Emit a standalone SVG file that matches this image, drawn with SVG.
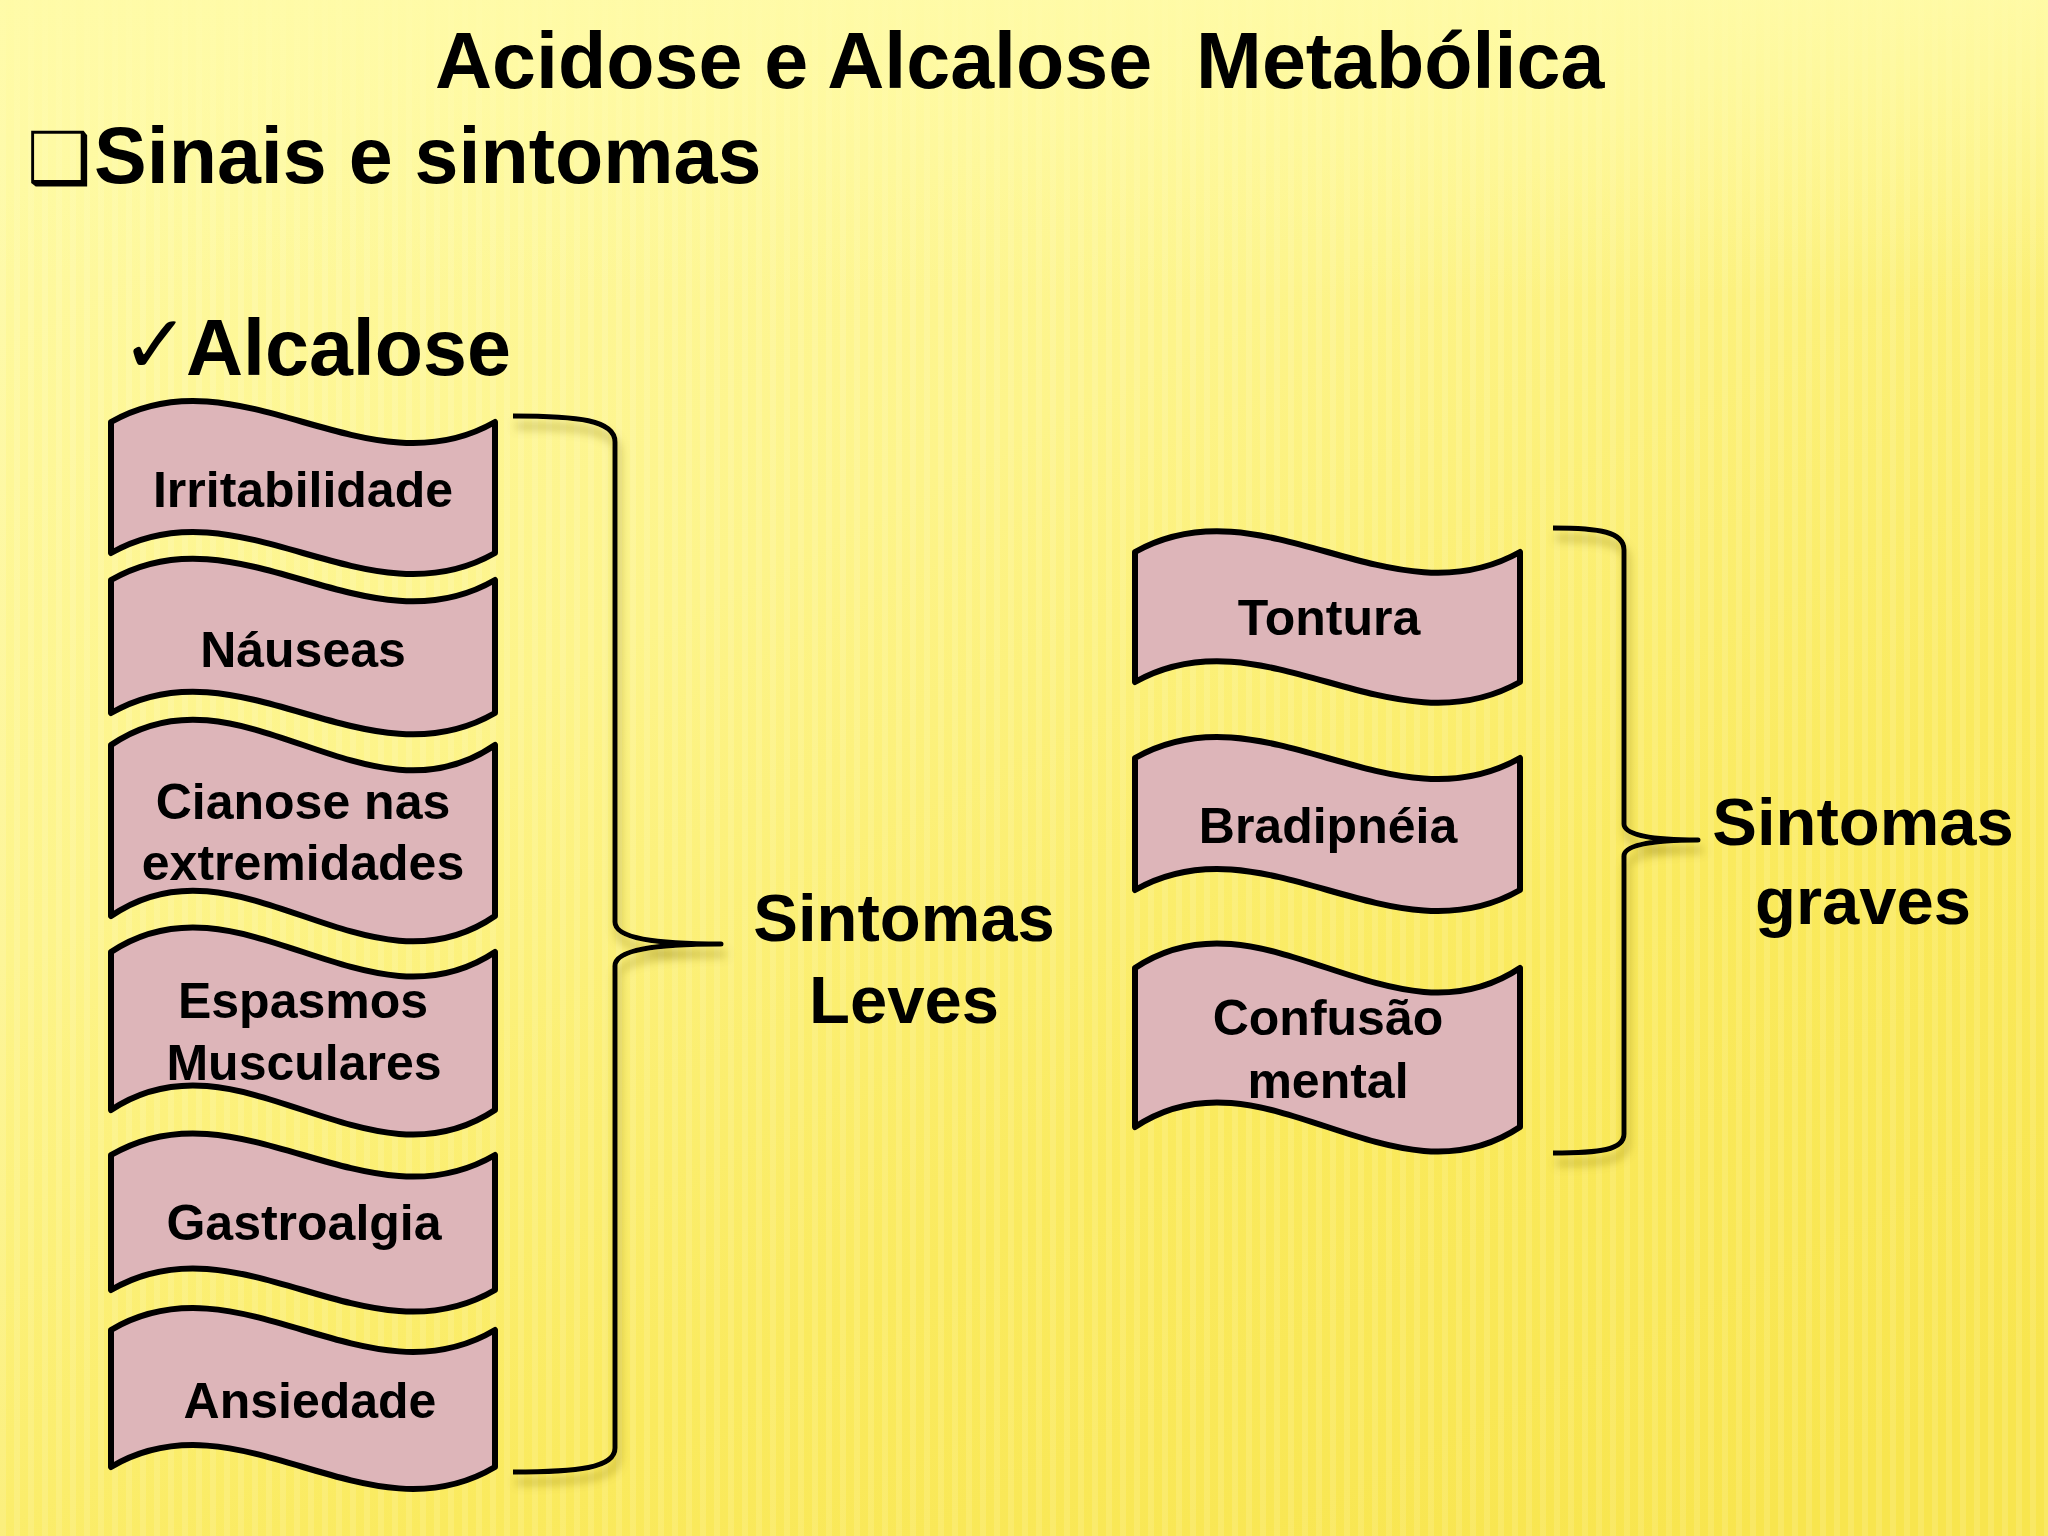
<svg xmlns="http://www.w3.org/2000/svg" width="2048" height="1536" viewBox="0 0 2048 1536">
<defs>
<linearGradient id="bg" x1="0.15" y1="0" x2="0.85" y2="1">
<stop offset="0" stop-color="#FEF9A0"/>
<stop offset="0.35" stop-color="#FDF48A"/>
<stop offset="0.7" stop-color="#FAEA5E"/>
<stop offset="1" stop-color="#F8E54E"/>
</linearGradient>
<linearGradient id="topfade" x1="0" y1="0" x2="0" y2="1">
<stop offset="0" stop-color="#FFFBA8" stop-opacity="0.9"/>
<stop offset="1" stop-color="#FFFBA8" stop-opacity="0"/>
</linearGradient>
<pattern id="stripes" width="14" height="40" patternUnits="userSpaceOnUse">
<rect x="0" y="0" width="6" height="40" fill="#FFFFFF" opacity="0.12"/>
</pattern>
<linearGradient id="rule" x1="0" y1="0" x2="1" y2="0">
<stop offset="0" stop-color="#EE8A3A" stop-opacity="0"/>
<stop offset="0.1" stop-color="#EE8A3A" stop-opacity="1"/>
<stop offset="1" stop-color="#EE8A3A" stop-opacity="1"/>
</linearGradient>
<filter id="shadow" x="-20%" y="-5%" width="160%" height="115%">
<feDropShadow dx="3" dy="10" stdDeviation="5" flood-color="#7A6A00" flood-opacity="0.45"/>
</filter>
</defs>
<style>
.banner{fill:#DDB5B9;stroke:#000;stroke-width:6;stroke-linejoin:round}
.lbl{font-family:"Liberation Sans",Arial,sans-serif;font-weight:bold;font-size:50px;fill:#000;text-anchor:middle}
.big{font-family:"Liberation Sans",Arial,sans-serif;font-weight:bold;font-size:79px;fill:#000}
.grp{font-family:"Liberation Sans",Arial,sans-serif;font-weight:bold;font-size:67px;fill:#000;text-anchor:middle}
.brace{fill:none;stroke:#000;stroke-width:5;stroke-linecap:butt;stroke-linejoin:round}
</style>

<rect width="2048" height="1536" fill="url(#bg)"/>
<rect width="2048" height="1536" fill="url(#stripes)"/>
<rect width="2048" height="300" fill="url(#topfade)"/>

<g id="header">
<text class="big" x="435" y="88" xml:space="preserve">Acidose e Alcalose  Metabólica</text>
<text class="big" x="27" y="183"><tspan font-family="DejaVu Sans, sans-serif" font-weight="normal" font-size="72">❑</tspan></text>
<text class="big" x="94" y="183">Sinais e sintomas</text>
<line x1="110" y1="236" x2="2048" y2="236" stroke="url(#rule)" stroke-width="4"/>
<text x="121" y="373" font-family="DejaVu Sans, sans-serif" font-weight="bold" font-size="82" fill="#000">✓</text>
<text class="big" x="186" y="375">Alcalose</text>
</g>

<g id="n-irritabilidade">
<path class="banner" d="M111,422 C239,349 367,495 495,422 L495,553 C367,626 239,480 111,553 Z"/>
<text class="lbl" x="303" y="507">Irritabilidade</text>
</g>
<g id="n-nauseas">
<path class="banner" d="M111,580 C239,506 367,654 495,580 L495,713 C367,787 239,639 111,713 Z"/>
<text class="lbl" x="303" y="667">Náuseas</text>
</g>
<g id="n-cianose">
<path class="banner" d="M111,745 C239,657 367,833 495,745 L495,916 C367,1004 239,828 111,916 Z"/>
<text class="lbl" x="303" y="819">Cianose nas</text>
<text class="lbl" x="303" y="880">extremidades</text>
</g>
<g id="n-espasmos">
<path class="banner" d="M111,952 C239,867 367,1037 495,952 L495,1110 C367,1195 239,1025 111,1110 Z"/>
<text class="lbl" x="303" y="1018">Espasmos</text>
<text class="lbl" x="304" y="1080">Musculares</text>
</g>
<g id="n-gastroalgia">
<path class="banner" d="M111,1155 C239,1080 367,1230 495,1155 L495,1290 C367,1365 239,1215 111,1290 Z"/>
<text class="lbl" x="304" y="1240">Gastroalgia</text>
</g>
<g id="n-ansiedade">
<path class="banner" d="M111,1330 C239,1254 367,1406 495,1330 L495,1467 C367,1543 239,1391 111,1467 Z"/>
<text class="lbl" x="310" y="1418">Ansiedade</text>
</g>

<g id="n-tontura">
<path class="banner" d="M1135,552 C1263,480 1392,624 1520,552 L1520,682 C1392,754 1263,610 1135,682 Z"/>
<text class="lbl" x="1329" y="635">Tontura</text>
</g>
<g id="n-bradipneia">
<path class="banner" d="M1135,758 C1263,685 1392,831 1520,758 L1520,890 C1392,963 1263,817 1135,890 Z"/>
<text class="lbl" x="1328" y="843">Bradipnéia</text>
</g>
<g id="n-confusao">
<path class="banner" d="M1135,968 C1263,883 1392,1053 1520,968 L1520,1127 C1392,1212 1263,1042 1135,1127 Z"/>
<text class="lbl" x="1328" y="1035">Confusão</text>
<text class="lbl" x="1328" y="1098">mental</text>
</g>

<g id="connectors">
<path class="brace" filter="url(#shadow)" d="M513,416 C578,416 615,420 615,442 L615,922 C615,938 655,944 721,944 C655,944 615,950 615,966 L615,1448 C615,1468 578,1472 513,1472"/>
<path class="brace" filter="url(#shadow)" d="M1553,528 C1600,528 1624,532 1624,550 L1624,824 C1624,835 1652,840 1698,840 C1652,840 1624,845 1624,856 L1624,1134 C1624,1150 1600,1153 1553,1153"/>
</g>

<g id="n-leves">
<text class="grp" x="904" y="941">Sintomas</text>
<text class="grp" x="904" y="1023">Leves</text>
</g>
<g id="n-graves">
<text class="grp" x="1863" y="845">Sintomas</text>
<text class="grp" x="1863" y="924">graves</text>
</g>
</svg>
